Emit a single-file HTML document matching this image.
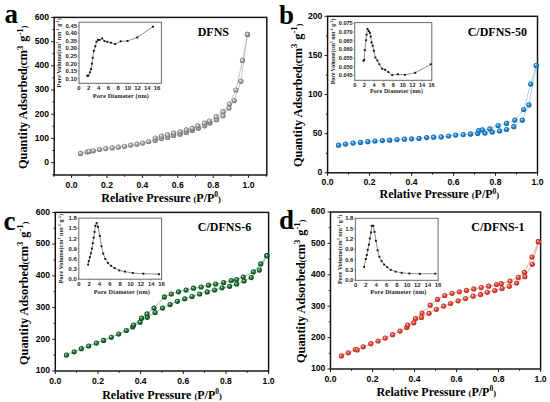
<!DOCTYPE html><html><head><meta charset="utf-8"><style>html,body{margin:0;padding:0;background:#fff;}svg{display:block;}</style></head><body>
<svg width="550" height="402" viewBox="0 0 550 402">
<defs>
<radialGradient id="ggray" cx="0.5" cy="0.5" r="0.5" fx="0.36" fy="0.33"><stop offset="0" stop-color="#ffffff"/><stop offset="0.3" stop-color="#d0d0d0"/><stop offset="0.6" stop-color="#9a9a9a"/><stop offset="1" stop-color="#6e6e6e"/></radialGradient>
<radialGradient id="gblue" cx="0.5" cy="0.5" r="0.5" fx="0.36" fy="0.33"><stop offset="0" stop-color="#eef8ff"/><stop offset="0.3" stop-color="#5cb0ea"/><stop offset="0.6" stop-color="#1a7ec8"/><stop offset="1" stop-color="#1463a6"/></radialGradient>
<radialGradient id="ggreen" cx="0.5" cy="0.5" r="0.5" fx="0.36" fy="0.33"><stop offset="0" stop-color="#f4fff4"/><stop offset="0.3" stop-color="#5a9e66"/><stop offset="0.6" stop-color="#16682e"/><stop offset="1" stop-color="#0b4a1a"/></radialGradient>
<radialGradient id="gred" cx="0.5" cy="0.5" r="0.5" fx="0.36" fy="0.33"><stop offset="0" stop-color="#fff0ec"/><stop offset="0.3" stop-color="#ec7a6e"/><stop offset="0.6" stop-color="#dc4234"/><stop offset="1" stop-color="#b52c20"/></radialGradient>
</defs>
<rect width="550" height="402" fill="#fff"/>
<g><rect x="54.20" y="17.40" width="212.60" height="157.60" fill="none" stroke="#111" stroke-width="1.45"/><line x1="71.60" y1="175.00" x2="71.60" y2="178.00" stroke="#1a1a1a" stroke-width="1"/><line x1="107.00" y1="175.00" x2="107.00" y2="178.00" stroke="#1a1a1a" stroke-width="1"/><line x1="142.40" y1="175.00" x2="142.40" y2="178.00" stroke="#1a1a1a" stroke-width="1"/><line x1="177.80" y1="175.00" x2="177.80" y2="178.00" stroke="#1a1a1a" stroke-width="1"/><line x1="213.20" y1="175.00" x2="213.20" y2="178.00" stroke="#1a1a1a" stroke-width="1"/><line x1="248.60" y1="175.00" x2="248.60" y2="178.00" stroke="#1a1a1a" stroke-width="1"/><line x1="53.90" y1="175.00" x2="53.90" y2="176.80" stroke="#1a1a1a" stroke-width="1"/><line x1="89.30" y1="175.00" x2="89.30" y2="176.80" stroke="#1a1a1a" stroke-width="1"/><line x1="124.70" y1="175.00" x2="124.70" y2="176.80" stroke="#1a1a1a" stroke-width="1"/><line x1="160.10" y1="175.00" x2="160.10" y2="176.80" stroke="#1a1a1a" stroke-width="1"/><line x1="195.50" y1="175.00" x2="195.50" y2="176.80" stroke="#1a1a1a" stroke-width="1"/><line x1="230.90" y1="175.00" x2="230.90" y2="176.80" stroke="#1a1a1a" stroke-width="1"/><line x1="266.30" y1="175.00" x2="266.30" y2="176.80" stroke="#1a1a1a" stroke-width="1"/><line x1="51.20" y1="162.60" x2="54.20" y2="162.60" stroke="#1a1a1a" stroke-width="1"/><line x1="51.20" y1="138.40" x2="54.20" y2="138.40" stroke="#1a1a1a" stroke-width="1"/><line x1="51.20" y1="114.20" x2="54.20" y2="114.20" stroke="#1a1a1a" stroke-width="1"/><line x1="51.20" y1="90.00" x2="54.20" y2="90.00" stroke="#1a1a1a" stroke-width="1"/><line x1="51.20" y1="65.80" x2="54.20" y2="65.80" stroke="#1a1a1a" stroke-width="1"/><line x1="51.20" y1="41.60" x2="54.20" y2="41.60" stroke="#1a1a1a" stroke-width="1"/><line x1="51.20" y1="17.40" x2="54.20" y2="17.40" stroke="#1a1a1a" stroke-width="1"/><line x1="52.40" y1="174.70" x2="54.20" y2="174.70" stroke="#1a1a1a" stroke-width="1"/><line x1="52.40" y1="150.50" x2="54.20" y2="150.50" stroke="#1a1a1a" stroke-width="1"/><line x1="52.40" y1="126.30" x2="54.20" y2="126.30" stroke="#1a1a1a" stroke-width="1"/><line x1="52.40" y1="102.10" x2="54.20" y2="102.10" stroke="#1a1a1a" stroke-width="1"/><line x1="52.40" y1="77.90" x2="54.20" y2="77.90" stroke="#1a1a1a" stroke-width="1"/><line x1="52.40" y1="53.70" x2="54.20" y2="53.70" stroke="#1a1a1a" stroke-width="1"/><line x1="52.40" y1="29.50" x2="54.20" y2="29.50" stroke="#1a1a1a" stroke-width="1"/><text x="71.60" y="187.60" text-anchor="middle" font-family='"Liberation Sans", sans-serif' font-weight="bold" font-size="8.6">0.0</text><text x="107.00" y="187.60" text-anchor="middle" font-family='"Liberation Sans", sans-serif' font-weight="bold" font-size="8.6">0.2</text><text x="142.40" y="187.60" text-anchor="middle" font-family='"Liberation Sans", sans-serif' font-weight="bold" font-size="8.6">0.4</text><text x="177.80" y="187.60" text-anchor="middle" font-family='"Liberation Sans", sans-serif' font-weight="bold" font-size="8.6">0.6</text><text x="213.20" y="187.60" text-anchor="middle" font-family='"Liberation Sans", sans-serif' font-weight="bold" font-size="8.6">0.8</text><text x="248.60" y="187.60" text-anchor="middle" font-family='"Liberation Sans", sans-serif' font-weight="bold" font-size="8.6">1.0</text><text x="49.00" y="164.90" text-anchor="end" font-family='"Liberation Sans", sans-serif' font-weight="bold" font-size="8.6">0</text><text x="49.00" y="140.70" text-anchor="end" font-family='"Liberation Sans", sans-serif' font-weight="bold" font-size="8.6">100</text><text x="49.00" y="116.50" text-anchor="end" font-family='"Liberation Sans", sans-serif' font-weight="bold" font-size="8.6">200</text><text x="49.00" y="92.30" text-anchor="end" font-family='"Liberation Sans", sans-serif' font-weight="bold" font-size="8.6">300</text><text x="49.00" y="68.10" text-anchor="end" font-family='"Liberation Sans", sans-serif' font-weight="bold" font-size="8.6">400</text><text x="49.00" y="43.90" text-anchor="end" font-family='"Liberation Sans", sans-serif' font-weight="bold" font-size="8.6">500</text><text x="49.00" y="19.70" text-anchor="end" font-family='"Liberation Sans", sans-serif' font-weight="bold" font-size="8.6">600</text><text x="4.5" y="22.6" font-family='"Liberation Serif", serif' font-weight="bold" font-size="27">a</text><text x="229.0" y="35.8" text-anchor="end" font-family='"Liberation Serif", serif' font-weight="bold" font-size="12">DFNS</text><text transform="translate(27.3,169.0) rotate(-90)" font-family='"Liberation Serif", serif' font-weight="bold" font-size="12.3">Quantity Adsorbed<tspan font-size="7.5">(</tspan>cm<tspan font-size="8.8" dy="-4.4">3</tspan><tspan dy="4.4" dx="0.8"> g</tspan><tspan font-size="8.8" dy="-4.4">-1</tspan><tspan font-size="7.5" dy="4.4">)</tspan></text><text x="101.3" y="201.5" font-family='"Liberation Serif", serif' font-weight="bold" font-size="12">Relative Pressure <tspan font-size="8.5">(</tspan>P/P<tspan font-size="7.5" dy="-4.5">0</tspan><tspan font-size="8.5" dy="4.5">)</tspan></text><polyline points="80.6,153.4 87.1,152.0 89.2,151.4 93.3,150.8 99.5,149.5 105.7,148.6 112.2,147.8 118.3,147.1 124.5,146.3 130.7,145.1 136.9,144.2 142.7,143.1 148.6,141.5 155.2,140.5 161.4,138.6 167.6,137.4 173.6,135.5 180.1,134.2 186.3,132.4 192.3,130.5 198.4,128.2 204.8,125.8 210.0,123.1 216.6,119.7 223.0,115.8 229.0,108.0 234.3,100.6 240.9,81.3 247.5,34.4" fill="none" stroke="#b0b0b0" stroke-width="0.7"/><polyline points="247.5,34.4 242.5,60.4 235.9,90.0 229.4,104.0 223.0,111.7 216.2,116.7 209.4,121.0 204.6,123.1 197.7,125.8 192.3,128.4 186.3,129.9 180.1,131.8 173.6,133.0 167.6,134.9 161.4,136.1 155.2,138.0" fill="none" stroke="#b0b0b0" stroke-width="0.7"/><circle cx="80.6" cy="153.4" r="2.6" fill="url(#ggray)"/><circle cx="87.1" cy="152.0" r="2.6" fill="url(#ggray)"/><circle cx="89.2" cy="151.4" r="2.6" fill="url(#ggray)"/><circle cx="93.3" cy="150.8" r="2.6" fill="url(#ggray)"/><circle cx="99.5" cy="149.5" r="2.6" fill="url(#ggray)"/><circle cx="105.7" cy="148.6" r="2.6" fill="url(#ggray)"/><circle cx="112.2" cy="147.8" r="2.6" fill="url(#ggray)"/><circle cx="118.3" cy="147.1" r="2.6" fill="url(#ggray)"/><circle cx="124.5" cy="146.3" r="2.6" fill="url(#ggray)"/><circle cx="130.7" cy="145.1" r="2.6" fill="url(#ggray)"/><circle cx="136.9" cy="144.2" r="2.6" fill="url(#ggray)"/><circle cx="142.7" cy="143.1" r="2.6" fill="url(#ggray)"/><circle cx="148.6" cy="141.5" r="2.6" fill="url(#ggray)"/><circle cx="155.2" cy="140.5" r="2.6" fill="url(#ggray)"/><circle cx="161.4" cy="138.6" r="2.6" fill="url(#ggray)"/><circle cx="167.6" cy="137.4" r="2.6" fill="url(#ggray)"/><circle cx="173.6" cy="135.5" r="2.6" fill="url(#ggray)"/><circle cx="180.1" cy="134.2" r="2.6" fill="url(#ggray)"/><circle cx="186.3" cy="132.4" r="2.6" fill="url(#ggray)"/><circle cx="192.3" cy="130.5" r="2.6" fill="url(#ggray)"/><circle cx="198.4" cy="128.2" r="2.6" fill="url(#ggray)"/><circle cx="204.8" cy="125.8" r="2.6" fill="url(#ggray)"/><circle cx="210.0" cy="123.1" r="2.6" fill="url(#ggray)"/><circle cx="216.6" cy="119.7" r="2.6" fill="url(#ggray)"/><circle cx="223.0" cy="115.8" r="2.6" fill="url(#ggray)"/><circle cx="229.0" cy="108.0" r="2.6" fill="url(#ggray)"/><circle cx="234.3" cy="100.6" r="2.6" fill="url(#ggray)"/><circle cx="240.9" cy="81.3" r="2.6" fill="url(#ggray)"/><circle cx="247.5" cy="34.4" r="2.6" fill="url(#ggray)"/><circle cx="247.5" cy="34.4" r="2.6" fill="url(#ggray)"/><circle cx="242.5" cy="60.4" r="2.6" fill="url(#ggray)"/><circle cx="235.9" cy="90.0" r="2.6" fill="url(#ggray)"/><circle cx="229.4" cy="104.0" r="2.6" fill="url(#ggray)"/><circle cx="223.0" cy="111.7" r="2.6" fill="url(#ggray)"/><circle cx="216.2" cy="116.7" r="2.6" fill="url(#ggray)"/><circle cx="209.4" cy="121.0" r="2.6" fill="url(#ggray)"/><circle cx="204.6" cy="123.1" r="2.6" fill="url(#ggray)"/><circle cx="197.7" cy="125.8" r="2.6" fill="url(#ggray)"/><circle cx="192.3" cy="128.4" r="2.6" fill="url(#ggray)"/><circle cx="186.3" cy="129.9" r="2.6" fill="url(#ggray)"/><circle cx="180.1" cy="131.8" r="2.6" fill="url(#ggray)"/><circle cx="173.6" cy="133.0" r="2.6" fill="url(#ggray)"/><circle cx="167.6" cy="134.9" r="2.6" fill="url(#ggray)"/><circle cx="161.4" cy="136.1" r="2.6" fill="url(#ggray)"/><circle cx="155.2" cy="138.0" r="2.6" fill="url(#ggray)"/><rect x="79.0" y="22.2" width="82.40" height="61.10" fill="#fff" stroke="#6a6a6a" stroke-width="1"/><line x1="79.00" y1="83.3" x2="79.00" y2="84.50" stroke="#555" stroke-width="0.6"/><text x="79.00" y="89.70" text-anchor="middle" font-family='"Liberation Sans", sans-serif' font-weight="bold" font-size="5.90" fill="#222">0</text><line x1="88.76" y1="83.3" x2="88.76" y2="84.50" stroke="#555" stroke-width="0.6"/><text x="88.76" y="89.70" text-anchor="middle" font-family='"Liberation Sans", sans-serif' font-weight="bold" font-size="5.90" fill="#222">2</text><line x1="98.52" y1="83.3" x2="98.52" y2="84.50" stroke="#555" stroke-width="0.6"/><text x="98.52" y="89.70" text-anchor="middle" font-family='"Liberation Sans", sans-serif' font-weight="bold" font-size="5.90" fill="#222">4</text><line x1="108.28" y1="83.3" x2="108.28" y2="84.50" stroke="#555" stroke-width="0.6"/><text x="108.28" y="89.70" text-anchor="middle" font-family='"Liberation Sans", sans-serif' font-weight="bold" font-size="5.90" fill="#222">6</text><line x1="118.04" y1="83.3" x2="118.04" y2="84.50" stroke="#555" stroke-width="0.6"/><text x="118.04" y="89.70" text-anchor="middle" font-family='"Liberation Sans", sans-serif' font-weight="bold" font-size="5.90" fill="#222">8</text><line x1="127.80" y1="83.3" x2="127.80" y2="84.50" stroke="#555" stroke-width="0.6"/><text x="127.80" y="89.70" text-anchor="middle" font-family='"Liberation Sans", sans-serif' font-weight="bold" font-size="5.90" fill="#222">10</text><line x1="137.56" y1="83.3" x2="137.56" y2="84.50" stroke="#555" stroke-width="0.6"/><text x="137.56" y="89.70" text-anchor="middle" font-family='"Liberation Sans", sans-serif' font-weight="bold" font-size="5.90" fill="#222">12</text><line x1="147.32" y1="83.3" x2="147.32" y2="84.50" stroke="#555" stroke-width="0.6"/><text x="147.32" y="89.70" text-anchor="middle" font-family='"Liberation Sans", sans-serif' font-weight="bold" font-size="5.90" fill="#222">14</text><line x1="157.08" y1="83.3" x2="157.08" y2="84.50" stroke="#555" stroke-width="0.6"/><text x="157.08" y="89.70" text-anchor="middle" font-family='"Liberation Sans", sans-serif' font-weight="bold" font-size="5.90" fill="#222">16</text><line x1="77.80" y1="78.60" x2="79.0" y2="78.60" stroke="#555" stroke-width="0.6"/><text x="77.00" y="80.60" text-anchor="end" font-family='"Liberation Sans", sans-serif' font-weight="bold" font-size="5.90" fill="#222">0.10</text><line x1="77.80" y1="71.07" x2="79.0" y2="71.07" stroke="#555" stroke-width="0.6"/><text x="77.00" y="73.07" text-anchor="end" font-family='"Liberation Sans", sans-serif' font-weight="bold" font-size="5.90" fill="#222">0.15</text><line x1="77.80" y1="63.54" x2="79.0" y2="63.54" stroke="#555" stroke-width="0.6"/><text x="77.00" y="65.54" text-anchor="end" font-family='"Liberation Sans", sans-serif' font-weight="bold" font-size="5.90" fill="#222">0.20</text><line x1="77.80" y1="56.01" x2="79.0" y2="56.01" stroke="#555" stroke-width="0.6"/><text x="77.00" y="58.01" text-anchor="end" font-family='"Liberation Sans", sans-serif' font-weight="bold" font-size="5.90" fill="#222">0.25</text><line x1="77.80" y1="48.49" x2="79.0" y2="48.49" stroke="#555" stroke-width="0.6"/><text x="77.00" y="50.49" text-anchor="end" font-family='"Liberation Sans", sans-serif' font-weight="bold" font-size="5.90" fill="#222">0.30</text><line x1="77.80" y1="40.96" x2="79.0" y2="40.96" stroke="#555" stroke-width="0.6"/><text x="77.00" y="42.96" text-anchor="end" font-family='"Liberation Sans", sans-serif' font-weight="bold" font-size="5.90" fill="#222">0.35</text><line x1="77.80" y1="33.43" x2="79.0" y2="33.43" stroke="#555" stroke-width="0.6"/><text x="77.00" y="35.43" text-anchor="end" font-family='"Liberation Sans", sans-serif' font-weight="bold" font-size="5.90" fill="#222">0.40</text><line x1="77.80" y1="25.90" x2="79.0" y2="25.90" stroke="#555" stroke-width="0.6"/><text x="77.00" y="27.90" text-anchor="end" font-family='"Liberation Sans", sans-serif' font-weight="bold" font-size="5.90" fill="#222">0.45</text><polyline points="87.2,75.7 88.4,75.7 89.9,72.3 91.0,69.1 91.9,63.7 92.7,57.8 93.8,50.8 95.3,46.3 96.5,41.8 97.9,39.9 99.6,39.9 102.2,38.4 104.4,41.0 107.3,41.8 110.9,42.7 115.2,44.0 120.7,41.3 127.5,41.0 137.3,37.4 153.0,26.7" fill="none" stroke="#333" stroke-width="0.55"/><rect x="86.25" y="74.75" width="1.9" height="1.9" fill="#111"/><rect x="87.45" y="74.75" width="1.9" height="1.9" fill="#111"/><rect x="88.95" y="71.35" width="1.9" height="1.9" fill="#111"/><rect x="90.05" y="68.15" width="1.9" height="1.9" fill="#111"/><rect x="90.95" y="62.75" width="1.9" height="1.9" fill="#111"/><rect x="91.75" y="56.85" width="1.9" height="1.9" fill="#111"/><rect x="92.85" y="49.85" width="1.9" height="1.9" fill="#111"/><rect x="94.35" y="45.35" width="1.9" height="1.9" fill="#111"/><rect x="95.55" y="40.85" width="1.9" height="1.9" fill="#111"/><rect x="96.95" y="38.95" width="1.9" height="1.9" fill="#111"/><rect x="98.65" y="38.95" width="1.9" height="1.9" fill="#111"/><rect x="101.25" y="37.45" width="1.9" height="1.9" fill="#111"/><rect x="103.45" y="40.05" width="1.9" height="1.9" fill="#111"/><rect x="106.35" y="40.85" width="1.9" height="1.9" fill="#111"/><rect x="109.95" y="41.75" width="1.9" height="1.9" fill="#111"/><rect x="114.25" y="43.05" width="1.9" height="1.9" fill="#111"/><rect x="119.75" y="40.35" width="1.9" height="1.9" fill="#111"/><rect x="126.55" y="40.05" width="1.9" height="1.9" fill="#111"/><rect x="136.35" y="36.45" width="1.9" height="1.9" fill="#111"/><rect x="152.05" y="25.75" width="1.9" height="1.9" fill="#111"/><text x="121.00" y="97.6" text-anchor="middle" font-family='"Liberation Serif", serif' font-weight="bold" font-size="6.20" letter-spacing="0.20" fill="#222">Pore Diameter (nm)</text><text transform="translate(61.2,52.75) rotate(-90)" text-anchor="middle" font-family='"Liberation Serif", serif' font-weight="bold" font-size="6.20" fill="#222">Pore Volume(cm<tspan font-size="4" dy="-2.2">3</tspan><tspan dy="2.2"> nm</tspan><tspan font-size="4" dy="-2.2">-1</tspan><tspan dy="2.2"> g</tspan><tspan font-size="4" dy="-2.2">-1</tspan><tspan dy="2.2">)</tspan></text></g>
<g><rect x="327.60" y="16.30" width="209.90" height="156.50" fill="none" stroke="#111" stroke-width="1.45"/><line x1="327.60" y1="172.80" x2="327.60" y2="175.80" stroke="#1a1a1a" stroke-width="1"/><line x1="369.58" y1="172.80" x2="369.58" y2="175.80" stroke="#1a1a1a" stroke-width="1"/><line x1="411.56" y1="172.80" x2="411.56" y2="175.80" stroke="#1a1a1a" stroke-width="1"/><line x1="453.54" y1="172.80" x2="453.54" y2="175.80" stroke="#1a1a1a" stroke-width="1"/><line x1="495.52" y1="172.80" x2="495.52" y2="175.80" stroke="#1a1a1a" stroke-width="1"/><line x1="537.50" y1="172.80" x2="537.50" y2="175.80" stroke="#1a1a1a" stroke-width="1"/><line x1="348.59" y1="172.80" x2="348.59" y2="174.60" stroke="#1a1a1a" stroke-width="1"/><line x1="390.57" y1="172.80" x2="390.57" y2="174.60" stroke="#1a1a1a" stroke-width="1"/><line x1="432.55" y1="172.80" x2="432.55" y2="174.60" stroke="#1a1a1a" stroke-width="1"/><line x1="474.53" y1="172.80" x2="474.53" y2="174.60" stroke="#1a1a1a" stroke-width="1"/><line x1="516.51" y1="172.80" x2="516.51" y2="174.60" stroke="#1a1a1a" stroke-width="1"/><line x1="324.60" y1="172.80" x2="327.60" y2="172.80" stroke="#1a1a1a" stroke-width="1"/><line x1="324.60" y1="133.68" x2="327.60" y2="133.68" stroke="#1a1a1a" stroke-width="1"/><line x1="324.60" y1="94.55" x2="327.60" y2="94.55" stroke="#1a1a1a" stroke-width="1"/><line x1="324.60" y1="55.43" x2="327.60" y2="55.43" stroke="#1a1a1a" stroke-width="1"/><line x1="324.60" y1="16.30" x2="327.60" y2="16.30" stroke="#1a1a1a" stroke-width="1"/><line x1="325.80" y1="153.24" x2="327.60" y2="153.24" stroke="#1a1a1a" stroke-width="1"/><line x1="325.80" y1="114.11" x2="327.60" y2="114.11" stroke="#1a1a1a" stroke-width="1"/><line x1="325.80" y1="74.99" x2="327.60" y2="74.99" stroke="#1a1a1a" stroke-width="1"/><line x1="325.80" y1="35.86" x2="327.60" y2="35.86" stroke="#1a1a1a" stroke-width="1"/><text x="327.60" y="185.40" text-anchor="middle" font-family='"Liberation Sans", sans-serif' font-weight="bold" font-size="8.6">0.0</text><text x="369.58" y="185.40" text-anchor="middle" font-family='"Liberation Sans", sans-serif' font-weight="bold" font-size="8.6">0.2</text><text x="411.56" y="185.40" text-anchor="middle" font-family='"Liberation Sans", sans-serif' font-weight="bold" font-size="8.6">0.4</text><text x="453.54" y="185.40" text-anchor="middle" font-family='"Liberation Sans", sans-serif' font-weight="bold" font-size="8.6">0.6</text><text x="495.52" y="185.40" text-anchor="middle" font-family='"Liberation Sans", sans-serif' font-weight="bold" font-size="8.6">0.8</text><text x="537.50" y="185.40" text-anchor="middle" font-family='"Liberation Sans", sans-serif' font-weight="bold" font-size="8.6">1.0</text><text x="322.40" y="175.10" text-anchor="end" font-family='"Liberation Sans", sans-serif' font-weight="bold" font-size="8.6">0</text><text x="322.40" y="135.98" text-anchor="end" font-family='"Liberation Sans", sans-serif' font-weight="bold" font-size="8.6">50</text><text x="322.40" y="96.85" text-anchor="end" font-family='"Liberation Sans", sans-serif' font-weight="bold" font-size="8.6">100</text><text x="322.40" y="57.73" text-anchor="end" font-family='"Liberation Sans", sans-serif' font-weight="bold" font-size="8.6">150</text><text x="322.40" y="18.60" text-anchor="end" font-family='"Liberation Sans", sans-serif' font-weight="bold" font-size="8.6">200</text><text x="279.0" y="23.5" font-family='"Liberation Serif", serif' font-weight="bold" font-size="27">b</text><text x="527.0" y="35.7" text-anchor="end" font-family='"Liberation Serif", serif' font-weight="bold" font-size="12">C/DFNS-50</text><text transform="translate(301.6,167.0) rotate(-90)" font-family='"Liberation Serif", serif' font-weight="bold" font-size="12.3">Quantity Adsorbed<tspan font-size="7.5">(</tspan>cm<tspan font-size="8.8" dy="-4.4">3</tspan><tspan dy="4.4" dx="0.8"> g</tspan><tspan font-size="8.8" dy="-4.4">-1</tspan><tspan font-size="7.5" dy="4.4">)</tspan></text><text x="379.5" y="198.4" font-family='"Liberation Serif", serif' font-weight="bold" font-size="12">Relative Pressure <tspan font-size="8.5">(</tspan>P/P<tspan font-size="7.5" dy="-4.5">0</tspan><tspan font-size="8.5" dy="4.5">)</tspan></text><polyline points="338.5,145.2 345.5,144.1 353.0,143.1 360.5,142.4 367.8,141.7 375.0,141.0 382.4,140.6 389.6,140.2 397.0,139.6 404.4,139.2 411.6,138.8 419.0,138.4 426.6,137.6 433.6,137.2 441.2,136.9 448.6,136.0 455.7,135.1 463.2,134.6 470.5,134.0 477.7,133.5 485.0,133.1 492.3,132.1 499.6,130.9 506.5,129.5 513.8,126.7 522.3,120.2 528.9,104.9 536.3,65.5" fill="none" stroke="#8cc0e8" stroke-width="0.7"/><polyline points="536.3,65.5 530.7,84.1 523.6,109.5 514.8,120.2 506.5,123.4 498.1,125.5 489.8,128.9 482.3,129.9 478.6,130.6 470.5,134.0" fill="none" stroke="#8cc0e8" stroke-width="0.7"/><circle cx="338.5" cy="145.2" r="2.6" fill="url(#gblue)"/><circle cx="345.5" cy="144.1" r="2.6" fill="url(#gblue)"/><circle cx="353.0" cy="143.1" r="2.6" fill="url(#gblue)"/><circle cx="360.5" cy="142.4" r="2.6" fill="url(#gblue)"/><circle cx="367.8" cy="141.7" r="2.6" fill="url(#gblue)"/><circle cx="375.0" cy="141.0" r="2.6" fill="url(#gblue)"/><circle cx="382.4" cy="140.6" r="2.6" fill="url(#gblue)"/><circle cx="389.6" cy="140.2" r="2.6" fill="url(#gblue)"/><circle cx="397.0" cy="139.6" r="2.6" fill="url(#gblue)"/><circle cx="404.4" cy="139.2" r="2.6" fill="url(#gblue)"/><circle cx="411.6" cy="138.8" r="2.6" fill="url(#gblue)"/><circle cx="419.0" cy="138.4" r="2.6" fill="url(#gblue)"/><circle cx="426.6" cy="137.6" r="2.6" fill="url(#gblue)"/><circle cx="433.6" cy="137.2" r="2.6" fill="url(#gblue)"/><circle cx="441.2" cy="136.9" r="2.6" fill="url(#gblue)"/><circle cx="448.6" cy="136.0" r="2.6" fill="url(#gblue)"/><circle cx="455.7" cy="135.1" r="2.6" fill="url(#gblue)"/><circle cx="463.2" cy="134.6" r="2.6" fill="url(#gblue)"/><circle cx="470.5" cy="134.0" r="2.6" fill="url(#gblue)"/><circle cx="477.7" cy="133.5" r="2.6" fill="url(#gblue)"/><circle cx="485.0" cy="133.1" r="2.6" fill="url(#gblue)"/><circle cx="492.3" cy="132.1" r="2.6" fill="url(#gblue)"/><circle cx="499.6" cy="130.9" r="2.6" fill="url(#gblue)"/><circle cx="506.5" cy="129.5" r="2.6" fill="url(#gblue)"/><circle cx="513.8" cy="126.7" r="2.6" fill="url(#gblue)"/><circle cx="522.3" cy="120.2" r="2.6" fill="url(#gblue)"/><circle cx="528.9" cy="104.9" r="2.6" fill="url(#gblue)"/><circle cx="536.3" cy="65.5" r="2.6" fill="url(#gblue)"/><circle cx="536.3" cy="65.5" r="2.6" fill="url(#gblue)"/><circle cx="530.7" cy="84.1" r="2.6" fill="url(#gblue)"/><circle cx="523.6" cy="109.5" r="2.6" fill="url(#gblue)"/><circle cx="514.8" cy="120.2" r="2.6" fill="url(#gblue)"/><circle cx="506.5" cy="123.4" r="2.6" fill="url(#gblue)"/><circle cx="498.1" cy="125.5" r="2.6" fill="url(#gblue)"/><circle cx="489.8" cy="128.9" r="2.6" fill="url(#gblue)"/><circle cx="482.3" cy="129.9" r="2.6" fill="url(#gblue)"/><circle cx="478.6" cy="130.6" r="2.6" fill="url(#gblue)"/><circle cx="470.5" cy="134.0" r="2.6" fill="url(#gblue)"/><rect x="354.7" y="22.6" width="77.10" height="57.70" fill="#fff" stroke="#6a6a6a" stroke-width="1"/><line x1="354.80" y1="80.3" x2="354.80" y2="81.50" stroke="#555" stroke-width="0.6"/><text x="354.80" y="86.70" text-anchor="middle" font-family='"Liberation Sans", sans-serif' font-weight="bold" font-size="5.55" fill="#222">0</text><line x1="364.40" y1="80.3" x2="364.40" y2="81.50" stroke="#555" stroke-width="0.6"/><text x="364.40" y="86.70" text-anchor="middle" font-family='"Liberation Sans", sans-serif' font-weight="bold" font-size="5.55" fill="#222">2</text><line x1="374.00" y1="80.3" x2="374.00" y2="81.50" stroke="#555" stroke-width="0.6"/><text x="374.00" y="86.70" text-anchor="middle" font-family='"Liberation Sans", sans-serif' font-weight="bold" font-size="5.55" fill="#222">4</text><line x1="383.60" y1="80.3" x2="383.60" y2="81.50" stroke="#555" stroke-width="0.6"/><text x="383.60" y="86.70" text-anchor="middle" font-family='"Liberation Sans", sans-serif' font-weight="bold" font-size="5.55" fill="#222">6</text><line x1="393.20" y1="80.3" x2="393.20" y2="81.50" stroke="#555" stroke-width="0.6"/><text x="393.20" y="86.70" text-anchor="middle" font-family='"Liberation Sans", sans-serif' font-weight="bold" font-size="5.55" fill="#222">8</text><line x1="402.80" y1="80.3" x2="402.80" y2="81.50" stroke="#555" stroke-width="0.6"/><text x="402.80" y="86.70" text-anchor="middle" font-family='"Liberation Sans", sans-serif' font-weight="bold" font-size="5.55" fill="#222">10</text><line x1="412.40" y1="80.3" x2="412.40" y2="81.50" stroke="#555" stroke-width="0.6"/><text x="412.40" y="86.70" text-anchor="middle" font-family='"Liberation Sans", sans-serif' font-weight="bold" font-size="5.55" fill="#222">12</text><line x1="422.00" y1="80.3" x2="422.00" y2="81.50" stroke="#555" stroke-width="0.6"/><text x="422.00" y="86.70" text-anchor="middle" font-family='"Liberation Sans", sans-serif' font-weight="bold" font-size="5.55" fill="#222">14</text><line x1="431.60" y1="80.3" x2="431.60" y2="81.50" stroke="#555" stroke-width="0.6"/><text x="431.60" y="86.70" text-anchor="middle" font-family='"Liberation Sans", sans-serif' font-weight="bold" font-size="5.55" fill="#222">16</text><line x1="353.50" y1="75.40" x2="354.7" y2="75.40" stroke="#555" stroke-width="0.6"/><text x="352.70" y="77.40" text-anchor="end" font-family='"Liberation Sans", sans-serif' font-weight="bold" font-size="5.55" fill="#222">0.045</text><line x1="353.50" y1="66.73" x2="354.7" y2="66.73" stroke="#555" stroke-width="0.6"/><text x="352.70" y="68.73" text-anchor="end" font-family='"Liberation Sans", sans-serif' font-weight="bold" font-size="5.55" fill="#222">0.050</text><line x1="353.50" y1="58.07" x2="354.7" y2="58.07" stroke="#555" stroke-width="0.6"/><text x="352.70" y="60.07" text-anchor="end" font-family='"Liberation Sans", sans-serif' font-weight="bold" font-size="5.55" fill="#222">0.055</text><line x1="353.50" y1="49.40" x2="354.7" y2="49.40" stroke="#555" stroke-width="0.6"/><text x="352.70" y="51.40" text-anchor="end" font-family='"Liberation Sans", sans-serif' font-weight="bold" font-size="5.55" fill="#222">0.060</text><line x1="353.50" y1="40.73" x2="354.7" y2="40.73" stroke="#555" stroke-width="0.6"/><text x="352.70" y="42.73" text-anchor="end" font-family='"Liberation Sans", sans-serif' font-weight="bold" font-size="5.55" fill="#222">0.065</text><line x1="353.50" y1="32.07" x2="354.7" y2="32.07" stroke="#555" stroke-width="0.6"/><text x="352.70" y="34.07" text-anchor="end" font-family='"Liberation Sans", sans-serif' font-weight="bold" font-size="5.55" fill="#222">0.070</text><line x1="353.50" y1="23.40" x2="354.7" y2="23.40" stroke="#555" stroke-width="0.6"/><text x="352.70" y="25.40" text-anchor="end" font-family='"Liberation Sans", sans-serif' font-weight="bold" font-size="5.55" fill="#222">0.075</text><polyline points="363.5,60.9 364.2,59.8 364.8,50.1 366.0,40.3 366.6,34.7 367.5,28.9 368.9,31.1 369.8,32.9 370.7,36.5 371.6,42.5 372.7,45.7 373.8,50.8 375.4,57.5 377.4,60.4 379.4,64.3 382.1,68.7 385.0,69.8 388.4,72.1 392.2,75.0 397.8,74.3 404.9,74.8 415.2,72.8 430.7,64.3" fill="none" stroke="#333" stroke-width="0.55"/><rect x="362.55" y="59.95" width="1.9" height="1.9" fill="#111"/><rect x="363.25" y="58.85" width="1.9" height="1.9" fill="#111"/><rect x="363.85" y="49.15" width="1.9" height="1.9" fill="#111"/><rect x="365.05" y="39.35" width="1.9" height="1.9" fill="#111"/><rect x="365.65" y="33.75" width="1.9" height="1.9" fill="#111"/><rect x="366.55" y="27.95" width="1.9" height="1.9" fill="#111"/><rect x="367.95" y="30.15" width="1.9" height="1.9" fill="#111"/><rect x="368.85" y="31.95" width="1.9" height="1.9" fill="#111"/><rect x="369.75" y="35.55" width="1.9" height="1.9" fill="#111"/><rect x="370.65" y="41.55" width="1.9" height="1.9" fill="#111"/><rect x="371.75" y="44.75" width="1.9" height="1.9" fill="#111"/><rect x="372.85" y="49.85" width="1.9" height="1.9" fill="#111"/><rect x="374.45" y="56.55" width="1.9" height="1.9" fill="#111"/><rect x="376.45" y="59.45" width="1.9" height="1.9" fill="#111"/><rect x="378.45" y="63.35" width="1.9" height="1.9" fill="#111"/><rect x="381.15" y="67.75" width="1.9" height="1.9" fill="#111"/><rect x="384.05" y="68.85" width="1.9" height="1.9" fill="#111"/><rect x="387.45" y="71.15" width="1.9" height="1.9" fill="#111"/><rect x="391.25" y="74.05" width="1.9" height="1.9" fill="#111"/><rect x="396.85" y="73.35" width="1.9" height="1.9" fill="#111"/><rect x="403.95" y="73.85" width="1.9" height="1.9" fill="#111"/><rect x="414.25" y="71.85" width="1.9" height="1.9" fill="#111"/><rect x="429.75" y="63.35" width="1.9" height="1.9" fill="#111"/><text x="396.50" y="92.5" text-anchor="middle" font-family='"Liberation Serif", serif' font-weight="bold" font-size="5.83" letter-spacing="0.19" fill="#222">Pore Diameter (nm)</text><text transform="translate(335.0,51.45) rotate(-90)" text-anchor="middle" font-family='"Liberation Serif", serif' font-weight="bold" font-size="5.83" fill="#222">Pore Volume(cm<tspan font-size="4" dy="-2.2">3</tspan><tspan dy="2.2"> nm</tspan><tspan font-size="4" dy="-2.2">-1</tspan><tspan dy="2.2"> g</tspan><tspan font-size="4" dy="-2.2">-1</tspan><tspan dy="2.2">)</tspan></text></g>
<g><rect x="55.30" y="212.40" width="213.30" height="158.60" fill="none" stroke="#111" stroke-width="1.45"/><line x1="55.30" y1="371.00" x2="55.30" y2="374.00" stroke="#1a1a1a" stroke-width="1"/><line x1="97.96" y1="371.00" x2="97.96" y2="374.00" stroke="#1a1a1a" stroke-width="1"/><line x1="140.62" y1="371.00" x2="140.62" y2="374.00" stroke="#1a1a1a" stroke-width="1"/><line x1="183.28" y1="371.00" x2="183.28" y2="374.00" stroke="#1a1a1a" stroke-width="1"/><line x1="225.94" y1="371.00" x2="225.94" y2="374.00" stroke="#1a1a1a" stroke-width="1"/><line x1="268.60" y1="371.00" x2="268.60" y2="374.00" stroke="#1a1a1a" stroke-width="1"/><line x1="76.63" y1="371.00" x2="76.63" y2="372.80" stroke="#1a1a1a" stroke-width="1"/><line x1="119.29" y1="371.00" x2="119.29" y2="372.80" stroke="#1a1a1a" stroke-width="1"/><line x1="161.95" y1="371.00" x2="161.95" y2="372.80" stroke="#1a1a1a" stroke-width="1"/><line x1="204.61" y1="371.00" x2="204.61" y2="372.80" stroke="#1a1a1a" stroke-width="1"/><line x1="247.27" y1="371.00" x2="247.27" y2="372.80" stroke="#1a1a1a" stroke-width="1"/><line x1="52.30" y1="371.00" x2="55.30" y2="371.00" stroke="#1a1a1a" stroke-width="1"/><line x1="52.30" y1="339.28" x2="55.30" y2="339.28" stroke="#1a1a1a" stroke-width="1"/><line x1="52.30" y1="307.56" x2="55.30" y2="307.56" stroke="#1a1a1a" stroke-width="1"/><line x1="52.30" y1="275.84" x2="55.30" y2="275.84" stroke="#1a1a1a" stroke-width="1"/><line x1="52.30" y1="244.12" x2="55.30" y2="244.12" stroke="#1a1a1a" stroke-width="1"/><line x1="52.30" y1="212.40" x2="55.30" y2="212.40" stroke="#1a1a1a" stroke-width="1"/><line x1="53.50" y1="355.14" x2="55.30" y2="355.14" stroke="#1a1a1a" stroke-width="1"/><line x1="53.50" y1="323.42" x2="55.30" y2="323.42" stroke="#1a1a1a" stroke-width="1"/><line x1="53.50" y1="291.70" x2="55.30" y2="291.70" stroke="#1a1a1a" stroke-width="1"/><line x1="53.50" y1="259.98" x2="55.30" y2="259.98" stroke="#1a1a1a" stroke-width="1"/><line x1="53.50" y1="228.26" x2="55.30" y2="228.26" stroke="#1a1a1a" stroke-width="1"/><text x="55.30" y="383.60" text-anchor="middle" font-family='"Liberation Sans", sans-serif' font-weight="bold" font-size="8.6">0.0</text><text x="97.96" y="383.60" text-anchor="middle" font-family='"Liberation Sans", sans-serif' font-weight="bold" font-size="8.6">0.2</text><text x="140.62" y="383.60" text-anchor="middle" font-family='"Liberation Sans", sans-serif' font-weight="bold" font-size="8.6">0.4</text><text x="183.28" y="383.60" text-anchor="middle" font-family='"Liberation Sans", sans-serif' font-weight="bold" font-size="8.6">0.6</text><text x="225.94" y="383.60" text-anchor="middle" font-family='"Liberation Sans", sans-serif' font-weight="bold" font-size="8.6">0.8</text><text x="268.60" y="383.60" text-anchor="middle" font-family='"Liberation Sans", sans-serif' font-weight="bold" font-size="8.6">1.0</text><text x="50.10" y="373.30" text-anchor="end" font-family='"Liberation Sans", sans-serif' font-weight="bold" font-size="8.6">100</text><text x="50.10" y="341.58" text-anchor="end" font-family='"Liberation Sans", sans-serif' font-weight="bold" font-size="8.6">200</text><text x="50.10" y="309.86" text-anchor="end" font-family='"Liberation Sans", sans-serif' font-weight="bold" font-size="8.6">300</text><text x="50.10" y="278.14" text-anchor="end" font-family='"Liberation Sans", sans-serif' font-weight="bold" font-size="8.6">400</text><text x="50.10" y="246.42" text-anchor="end" font-family='"Liberation Sans", sans-serif' font-weight="bold" font-size="8.6">500</text><text x="50.10" y="214.70" text-anchor="end" font-family='"Liberation Sans", sans-serif' font-weight="bold" font-size="8.6">600</text><text x="3.5" y="229.9" font-family='"Liberation Serif", serif' font-weight="bold" font-size="27">c</text><text x="251.2" y="231.3" text-anchor="end" font-family='"Liberation Serif", serif' font-weight="bold" font-size="12">C/DFNS-6</text><text transform="translate(27.5,365.0) rotate(-90)" font-family='"Liberation Serif", serif' font-weight="bold" font-size="12.3">Quantity Adsorbed<tspan font-size="7.5">(</tspan>cm<tspan font-size="8.8" dy="-4.4">3</tspan><tspan dy="4.4" dx="0.8"> g</tspan><tspan font-size="8.8" dy="-4.4">-1</tspan><tspan font-size="7.5" dy="4.4">)</tspan></text><text x="102.2" y="398.7" font-family='"Liberation Serif", serif' font-weight="bold" font-size="12">Relative Pressure <tspan font-size="8.5">(</tspan>P/P<tspan font-size="7.5" dy="-4.5">0</tspan><tspan font-size="8.5" dy="4.5">)</tspan></text><polyline points="66.4,355.1 74.2,351.8 81.3,348.7 88.7,346.0 96.4,343.1 103.6,340.4 111.3,337.3 118.7,334.0 126.4,330.5 132.7,326.9 140.0,322.2 147.3,317.3 155.1,312.5 162.5,308.1 170.1,304.6 177.4,301.3 184.7,298.8 192.1,296.5 199.6,294.0 207.2,291.9 214.6,290.0 222.1,287.8 229.6,286.3 236.6,284.0 244.0,281.0 251.2,277.6 259.4,270.1 266.9,255.7" fill="none" stroke="#6c9e76" stroke-width="0.7"/><polyline points="266.9,255.7 260.7,263.9 253.4,271.8 243.3,277.0 236.6,279.6 231.3,280.6 223.6,282.5 215.7,284.0 208.5,285.2 201.1,287.0 193.5,288.2 186.1,290.1 178.5,291.8 171.3,294.0 164.4,296.9 154.0,308.1 147.0,313.9 141.5,318.2 133.6,325.1" fill="none" stroke="#6c9e76" stroke-width="0.7"/><circle cx="66.4" cy="355.1" r="2.6" fill="url(#ggreen)"/><circle cx="74.2" cy="351.8" r="2.6" fill="url(#ggreen)"/><circle cx="81.3" cy="348.7" r="2.6" fill="url(#ggreen)"/><circle cx="88.7" cy="346.0" r="2.6" fill="url(#ggreen)"/><circle cx="96.4" cy="343.1" r="2.6" fill="url(#ggreen)"/><circle cx="103.6" cy="340.4" r="2.6" fill="url(#ggreen)"/><circle cx="111.3" cy="337.3" r="2.6" fill="url(#ggreen)"/><circle cx="118.7" cy="334.0" r="2.6" fill="url(#ggreen)"/><circle cx="126.4" cy="330.5" r="2.6" fill="url(#ggreen)"/><circle cx="132.7" cy="326.9" r="2.6" fill="url(#ggreen)"/><circle cx="140.0" cy="322.2" r="2.6" fill="url(#ggreen)"/><circle cx="147.3" cy="317.3" r="2.6" fill="url(#ggreen)"/><circle cx="155.1" cy="312.5" r="2.6" fill="url(#ggreen)"/><circle cx="162.5" cy="308.1" r="2.6" fill="url(#ggreen)"/><circle cx="170.1" cy="304.6" r="2.6" fill="url(#ggreen)"/><circle cx="177.4" cy="301.3" r="2.6" fill="url(#ggreen)"/><circle cx="184.7" cy="298.8" r="2.6" fill="url(#ggreen)"/><circle cx="192.1" cy="296.5" r="2.6" fill="url(#ggreen)"/><circle cx="199.6" cy="294.0" r="2.6" fill="url(#ggreen)"/><circle cx="207.2" cy="291.9" r="2.6" fill="url(#ggreen)"/><circle cx="214.6" cy="290.0" r="2.6" fill="url(#ggreen)"/><circle cx="222.1" cy="287.8" r="2.6" fill="url(#ggreen)"/><circle cx="229.6" cy="286.3" r="2.6" fill="url(#ggreen)"/><circle cx="236.6" cy="284.0" r="2.6" fill="url(#ggreen)"/><circle cx="244.0" cy="281.0" r="2.6" fill="url(#ggreen)"/><circle cx="251.2" cy="277.6" r="2.6" fill="url(#ggreen)"/><circle cx="259.4" cy="270.1" r="2.6" fill="url(#ggreen)"/><circle cx="266.9" cy="255.7" r="2.6" fill="url(#ggreen)"/><circle cx="266.9" cy="255.7" r="2.6" fill="url(#ggreen)"/><circle cx="260.7" cy="263.9" r="2.6" fill="url(#ggreen)"/><circle cx="253.4" cy="271.8" r="2.6" fill="url(#ggreen)"/><circle cx="243.3" cy="277.0" r="2.6" fill="url(#ggreen)"/><circle cx="236.6" cy="279.6" r="2.6" fill="url(#ggreen)"/><circle cx="231.3" cy="280.6" r="2.6" fill="url(#ggreen)"/><circle cx="223.6" cy="282.5" r="2.6" fill="url(#ggreen)"/><circle cx="215.7" cy="284.0" r="2.6" fill="url(#ggreen)"/><circle cx="208.5" cy="285.2" r="2.6" fill="url(#ggreen)"/><circle cx="201.1" cy="287.0" r="2.6" fill="url(#ggreen)"/><circle cx="193.5" cy="288.2" r="2.6" fill="url(#ggreen)"/><circle cx="186.1" cy="290.1" r="2.6" fill="url(#ggreen)"/><circle cx="178.5" cy="291.8" r="2.6" fill="url(#ggreen)"/><circle cx="171.3" cy="294.0" r="2.6" fill="url(#ggreen)"/><circle cx="164.4" cy="296.9" r="2.6" fill="url(#ggreen)"/><circle cx="154.0" cy="308.1" r="2.6" fill="url(#ggreen)"/><circle cx="147.0" cy="313.9" r="2.6" fill="url(#ggreen)"/><circle cx="141.5" cy="318.2" r="2.6" fill="url(#ggreen)"/><circle cx="133.6" cy="325.1" r="2.6" fill="url(#ggreen)"/><rect x="78.8" y="218.1" width="82.80" height="61.10" fill="#fff" stroke="#6a6a6a" stroke-width="1"/><line x1="78.80" y1="279.2" x2="78.80" y2="280.40" stroke="#555" stroke-width="0.6"/><text x="78.80" y="286.20" text-anchor="middle" font-family='"Liberation Sans", sans-serif' font-weight="bold" font-size="5.90" fill="#222">0</text><line x1="89.14" y1="279.2" x2="89.14" y2="280.40" stroke="#555" stroke-width="0.6"/><text x="89.14" y="286.20" text-anchor="middle" font-family='"Liberation Sans", sans-serif' font-weight="bold" font-size="5.90" fill="#222">2</text><line x1="99.48" y1="279.2" x2="99.48" y2="280.40" stroke="#555" stroke-width="0.6"/><text x="99.48" y="286.20" text-anchor="middle" font-family='"Liberation Sans", sans-serif' font-weight="bold" font-size="5.90" fill="#222">4</text><line x1="109.82" y1="279.2" x2="109.82" y2="280.40" stroke="#555" stroke-width="0.6"/><text x="109.82" y="286.20" text-anchor="middle" font-family='"Liberation Sans", sans-serif' font-weight="bold" font-size="5.90" fill="#222">6</text><line x1="120.16" y1="279.2" x2="120.16" y2="280.40" stroke="#555" stroke-width="0.6"/><text x="120.16" y="286.20" text-anchor="middle" font-family='"Liberation Sans", sans-serif' font-weight="bold" font-size="5.90" fill="#222">8</text><line x1="130.50" y1="279.2" x2="130.50" y2="280.40" stroke="#555" stroke-width="0.6"/><text x="130.50" y="286.20" text-anchor="middle" font-family='"Liberation Sans", sans-serif' font-weight="bold" font-size="5.90" fill="#222">10</text><line x1="140.84" y1="279.2" x2="140.84" y2="280.40" stroke="#555" stroke-width="0.6"/><text x="140.84" y="286.20" text-anchor="middle" font-family='"Liberation Sans", sans-serif' font-weight="bold" font-size="5.90" fill="#222">12</text><line x1="151.18" y1="279.2" x2="151.18" y2="280.40" stroke="#555" stroke-width="0.6"/><text x="151.18" y="286.20" text-anchor="middle" font-family='"Liberation Sans", sans-serif' font-weight="bold" font-size="5.90" fill="#222">14</text><line x1="161.52" y1="279.2" x2="161.52" y2="280.40" stroke="#555" stroke-width="0.6"/><text x="161.52" y="286.20" text-anchor="middle" font-family='"Liberation Sans", sans-serif' font-weight="bold" font-size="5.90" fill="#222">16</text><line x1="77.60" y1="279.20" x2="78.8" y2="279.20" stroke="#555" stroke-width="0.6"/><text x="76.80" y="281.20" text-anchor="end" font-family='"Liberation Sans", sans-serif' font-weight="bold" font-size="5.90" fill="#222">0.0</text><line x1="77.60" y1="269.03" x2="78.8" y2="269.03" stroke="#555" stroke-width="0.6"/><text x="76.80" y="271.03" text-anchor="end" font-family='"Liberation Sans", sans-serif' font-weight="bold" font-size="5.90" fill="#222">0.3</text><line x1="77.60" y1="258.87" x2="78.8" y2="258.87" stroke="#555" stroke-width="0.6"/><text x="76.80" y="260.87" text-anchor="end" font-family='"Liberation Sans", sans-serif' font-weight="bold" font-size="5.90" fill="#222">0.6</text><line x1="77.60" y1="248.70" x2="78.8" y2="248.70" stroke="#555" stroke-width="0.6"/><text x="76.80" y="250.70" text-anchor="end" font-family='"Liberation Sans", sans-serif' font-weight="bold" font-size="5.90" fill="#222">0.9</text><line x1="77.60" y1="238.53" x2="78.8" y2="238.53" stroke="#555" stroke-width="0.6"/><text x="76.80" y="240.53" text-anchor="end" font-family='"Liberation Sans", sans-serif' font-weight="bold" font-size="5.90" fill="#222">1.2</text><line x1="77.60" y1="228.37" x2="78.8" y2="228.37" stroke="#555" stroke-width="0.6"/><text x="76.80" y="230.37" text-anchor="end" font-family='"Liberation Sans", sans-serif' font-weight="bold" font-size="5.90" fill="#222">1.5</text><line x1="77.60" y1="218.20" x2="78.8" y2="218.20" stroke="#555" stroke-width="0.6"/><text x="76.80" y="220.20" text-anchor="end" font-family='"Liberation Sans", sans-serif' font-weight="bold" font-size="5.90" fill="#222">1.8</text><polyline points="88.1,264.6 88.8,261.1 89.8,257.3 90.9,253.3 91.9,248.6 92.8,243.2 93.7,237.6 94.5,231.9 95.4,225.8 96.6,223.0 98.0,226.8 99.8,235.9 101.5,246.3 103.2,253.6 105.3,258.9 107.9,262.9 111.1,265.8 114.6,268.1 119.3,270.4 125.0,271.6 132.8,273.0 143.3,273.7 159.0,274.2" fill="none" stroke="#333" stroke-width="0.55"/><rect x="87.15" y="263.65" width="1.9" height="1.9" fill="#111"/><rect x="87.85" y="260.15" width="1.9" height="1.9" fill="#111"/><rect x="88.85" y="256.35" width="1.9" height="1.9" fill="#111"/><rect x="89.95" y="252.35" width="1.9" height="1.9" fill="#111"/><rect x="90.95" y="247.65" width="1.9" height="1.9" fill="#111"/><rect x="91.85" y="242.25" width="1.9" height="1.9" fill="#111"/><rect x="92.75" y="236.65" width="1.9" height="1.9" fill="#111"/><rect x="93.55" y="230.95" width="1.9" height="1.9" fill="#111"/><rect x="94.45" y="224.85" width="1.9" height="1.9" fill="#111"/><rect x="95.65" y="222.05" width="1.9" height="1.9" fill="#111"/><rect x="97.05" y="225.85" width="1.9" height="1.9" fill="#111"/><rect x="98.85" y="234.95" width="1.9" height="1.9" fill="#111"/><rect x="100.55" y="245.35" width="1.9" height="1.9" fill="#111"/><rect x="102.25" y="252.65" width="1.9" height="1.9" fill="#111"/><rect x="104.35" y="257.95" width="1.9" height="1.9" fill="#111"/><rect x="106.95" y="261.95" width="1.9" height="1.9" fill="#111"/><rect x="110.15" y="264.85" width="1.9" height="1.9" fill="#111"/><rect x="113.65" y="267.15" width="1.9" height="1.9" fill="#111"/><rect x="118.35" y="269.45" width="1.9" height="1.9" fill="#111"/><rect x="124.05" y="270.65" width="1.9" height="1.9" fill="#111"/><rect x="131.85" y="272.05" width="1.9" height="1.9" fill="#111"/><rect x="142.35" y="272.75" width="1.9" height="1.9" fill="#111"/><rect x="158.05" y="273.25" width="1.9" height="1.9" fill="#111"/><text x="121.90" y="294.0" text-anchor="middle" font-family='"Liberation Serif", serif' font-weight="bold" font-size="6.20" letter-spacing="0.20" fill="#222">Pore Diameter (nm)</text><text transform="translate(63.0,248.65) rotate(-90)" text-anchor="middle" font-family='"Liberation Serif", serif' font-weight="bold" font-size="6.20" fill="#222">Pore Volume(cm<tspan font-size="4" dy="-2.2">3</tspan><tspan dy="2.2"> nm</tspan><tspan font-size="4" dy="-2.2">-1</tspan><tspan dy="2.2"> g</tspan><tspan font-size="4" dy="-2.2">-1</tspan><tspan dy="2.2">)</tspan></text></g>
<g><rect x="330.50" y="212.00" width="210.10" height="157.00" fill="none" stroke="#111" stroke-width="1.45"/><line x1="330.50" y1="369.00" x2="330.50" y2="372.00" stroke="#1a1a1a" stroke-width="1"/><line x1="372.52" y1="369.00" x2="372.52" y2="372.00" stroke="#1a1a1a" stroke-width="1"/><line x1="414.54" y1="369.00" x2="414.54" y2="372.00" stroke="#1a1a1a" stroke-width="1"/><line x1="456.56" y1="369.00" x2="456.56" y2="372.00" stroke="#1a1a1a" stroke-width="1"/><line x1="498.58" y1="369.00" x2="498.58" y2="372.00" stroke="#1a1a1a" stroke-width="1"/><line x1="540.60" y1="369.00" x2="540.60" y2="372.00" stroke="#1a1a1a" stroke-width="1"/><line x1="351.51" y1="369.00" x2="351.51" y2="370.80" stroke="#1a1a1a" stroke-width="1"/><line x1="393.53" y1="369.00" x2="393.53" y2="370.80" stroke="#1a1a1a" stroke-width="1"/><line x1="435.55" y1="369.00" x2="435.55" y2="370.80" stroke="#1a1a1a" stroke-width="1"/><line x1="477.57" y1="369.00" x2="477.57" y2="370.80" stroke="#1a1a1a" stroke-width="1"/><line x1="519.59" y1="369.00" x2="519.59" y2="370.80" stroke="#1a1a1a" stroke-width="1"/><line x1="327.50" y1="369.00" x2="330.50" y2="369.00" stroke="#1a1a1a" stroke-width="1"/><line x1="327.50" y1="337.60" x2="330.50" y2="337.60" stroke="#1a1a1a" stroke-width="1"/><line x1="327.50" y1="306.20" x2="330.50" y2="306.20" stroke="#1a1a1a" stroke-width="1"/><line x1="327.50" y1="274.80" x2="330.50" y2="274.80" stroke="#1a1a1a" stroke-width="1"/><line x1="327.50" y1="243.40" x2="330.50" y2="243.40" stroke="#1a1a1a" stroke-width="1"/><line x1="327.50" y1="212.00" x2="330.50" y2="212.00" stroke="#1a1a1a" stroke-width="1"/><line x1="328.70" y1="353.30" x2="330.50" y2="353.30" stroke="#1a1a1a" stroke-width="1"/><line x1="328.70" y1="321.90" x2="330.50" y2="321.90" stroke="#1a1a1a" stroke-width="1"/><line x1="328.70" y1="290.50" x2="330.50" y2="290.50" stroke="#1a1a1a" stroke-width="1"/><line x1="328.70" y1="259.10" x2="330.50" y2="259.10" stroke="#1a1a1a" stroke-width="1"/><line x1="328.70" y1="227.70" x2="330.50" y2="227.70" stroke="#1a1a1a" stroke-width="1"/><text x="330.50" y="381.60" text-anchor="middle" font-family='"Liberation Sans", sans-serif' font-weight="bold" font-size="8.6">0.0</text><text x="372.52" y="381.60" text-anchor="middle" font-family='"Liberation Sans", sans-serif' font-weight="bold" font-size="8.6">0.2</text><text x="414.54" y="381.60" text-anchor="middle" font-family='"Liberation Sans", sans-serif' font-weight="bold" font-size="8.6">0.4</text><text x="456.56" y="381.60" text-anchor="middle" font-family='"Liberation Sans", sans-serif' font-weight="bold" font-size="8.6">0.6</text><text x="498.58" y="381.60" text-anchor="middle" font-family='"Liberation Sans", sans-serif' font-weight="bold" font-size="8.6">0.8</text><text x="540.60" y="381.60" text-anchor="middle" font-family='"Liberation Sans", sans-serif' font-weight="bold" font-size="8.6">1.0</text><text x="325.30" y="371.30" text-anchor="end" font-family='"Liberation Sans", sans-serif' font-weight="bold" font-size="8.6">100</text><text x="325.30" y="339.90" text-anchor="end" font-family='"Liberation Sans", sans-serif' font-weight="bold" font-size="8.6">200</text><text x="325.30" y="308.50" text-anchor="end" font-family='"Liberation Sans", sans-serif' font-weight="bold" font-size="8.6">300</text><text x="325.30" y="277.10" text-anchor="end" font-family='"Liberation Sans", sans-serif' font-weight="bold" font-size="8.6">400</text><text x="325.30" y="245.70" text-anchor="end" font-family='"Liberation Sans", sans-serif' font-weight="bold" font-size="8.6">500</text><text x="325.30" y="214.30" text-anchor="end" font-family='"Liberation Sans", sans-serif' font-weight="bold" font-size="8.6">600</text><text x="279.0" y="229.1" font-family='"Liberation Serif", serif' font-weight="bold" font-size="27">d</text><text x="524.6" y="231.4" text-anchor="end" font-family='"Liberation Serif", serif' font-weight="bold" font-size="12">C/DFNS-1</text><text transform="translate(304.6,363.0) rotate(-90)" font-family='"Liberation Serif", serif' font-weight="bold" font-size="12.3">Quantity Adsorbed<tspan font-size="7.5">(</tspan>cm<tspan font-size="8.8" dy="-4.4">3</tspan><tspan dy="4.4" dx="0.8"> g</tspan><tspan font-size="8.8" dy="-4.4">-1</tspan><tspan font-size="7.5" dy="4.4">)</tspan></text><text x="376.4" y="395.9" font-family='"Liberation Serif", serif' font-weight="bold" font-size="12">Relative Pressure <tspan font-size="8.5">(</tspan>P/P<tspan font-size="7.5" dy="-4.5">0</tspan><tspan font-size="8.5" dy="4.5">)</tspan></text><polyline points="341.4,355.9 348.3,352.8 355.4,349.5 357.2,349.9 363.2,346.8 370.8,343.7 378.1,341.0 385.2,338.0 392.6,334.7 400.0,331.1 406.8,327.4 413.8,322.8 421.5,317.5 429.0,313.3 436.3,309.3 443.6,306.1 450.5,303.5 458.1,300.8 465.5,298.5 473.1,296.2 480.6,294.4 487.3,292.3 494.8,290.6 502.1,288.5 509.3,286.3 516.6,283.0 524.9,276.7 532.3,264.3 538.4,241.7" fill="none" stroke="#e6867c" stroke-width="0.7"/><polyline points="538.4,241.7 531.9,257.0 524.4,272.3 518.3,277.4 510.0,281.0 501.3,283.7 496.5,284.5 488.7,286.2 481.2,287.6 473.8,288.9 466.5,290.4 459.3,291.8 452.0,293.3 444.7,295.5 437.5,299.4 430.2,305.2 422.1,313.0 415.5,318.6 407.6,325.1" fill="none" stroke="#e6867c" stroke-width="0.7"/><circle cx="341.4" cy="355.9" r="2.6" fill="url(#gred)"/><circle cx="348.3" cy="352.8" r="2.6" fill="url(#gred)"/><circle cx="355.4" cy="349.5" r="2.6" fill="url(#gred)"/><circle cx="357.2" cy="349.9" r="2.6" fill="url(#gred)"/><circle cx="363.2" cy="346.8" r="2.6" fill="url(#gred)"/><circle cx="370.8" cy="343.7" r="2.6" fill="url(#gred)"/><circle cx="378.1" cy="341.0" r="2.6" fill="url(#gred)"/><circle cx="385.2" cy="338.0" r="2.6" fill="url(#gred)"/><circle cx="392.6" cy="334.7" r="2.6" fill="url(#gred)"/><circle cx="400.0" cy="331.1" r="2.6" fill="url(#gred)"/><circle cx="406.8" cy="327.4" r="2.6" fill="url(#gred)"/><circle cx="413.8" cy="322.8" r="2.6" fill="url(#gred)"/><circle cx="421.5" cy="317.5" r="2.6" fill="url(#gred)"/><circle cx="429.0" cy="313.3" r="2.6" fill="url(#gred)"/><circle cx="436.3" cy="309.3" r="2.6" fill="url(#gred)"/><circle cx="443.6" cy="306.1" r="2.6" fill="url(#gred)"/><circle cx="450.5" cy="303.5" r="2.6" fill="url(#gred)"/><circle cx="458.1" cy="300.8" r="2.6" fill="url(#gred)"/><circle cx="465.5" cy="298.5" r="2.6" fill="url(#gred)"/><circle cx="473.1" cy="296.2" r="2.6" fill="url(#gred)"/><circle cx="480.6" cy="294.4" r="2.6" fill="url(#gred)"/><circle cx="487.3" cy="292.3" r="2.6" fill="url(#gred)"/><circle cx="494.8" cy="290.6" r="2.6" fill="url(#gred)"/><circle cx="502.1" cy="288.5" r="2.6" fill="url(#gred)"/><circle cx="509.3" cy="286.3" r="2.6" fill="url(#gred)"/><circle cx="516.6" cy="283.0" r="2.6" fill="url(#gred)"/><circle cx="524.9" cy="276.7" r="2.6" fill="url(#gred)"/><circle cx="532.3" cy="264.3" r="2.6" fill="url(#gred)"/><circle cx="538.4" cy="241.7" r="2.6" fill="url(#gred)"/><circle cx="538.4" cy="241.7" r="2.6" fill="url(#gred)"/><circle cx="531.9" cy="257.0" r="2.6" fill="url(#gred)"/><circle cx="524.4" cy="272.3" r="2.6" fill="url(#gred)"/><circle cx="518.3" cy="277.4" r="2.6" fill="url(#gred)"/><circle cx="510.0" cy="281.0" r="2.6" fill="url(#gred)"/><circle cx="501.3" cy="283.7" r="2.6" fill="url(#gred)"/><circle cx="496.5" cy="284.5" r="2.6" fill="url(#gred)"/><circle cx="488.7" cy="286.2" r="2.6" fill="url(#gred)"/><circle cx="481.2" cy="287.6" r="2.6" fill="url(#gred)"/><circle cx="473.8" cy="288.9" r="2.6" fill="url(#gred)"/><circle cx="466.5" cy="290.4" r="2.6" fill="url(#gred)"/><circle cx="459.3" cy="291.8" r="2.6" fill="url(#gred)"/><circle cx="452.0" cy="293.3" r="2.6" fill="url(#gred)"/><circle cx="444.7" cy="295.5" r="2.6" fill="url(#gred)"/><circle cx="437.5" cy="299.4" r="2.6" fill="url(#gred)"/><circle cx="430.2" cy="305.2" r="2.6" fill="url(#gred)"/><circle cx="422.1" cy="313.0" r="2.6" fill="url(#gred)"/><circle cx="415.5" cy="318.6" r="2.6" fill="url(#gred)"/><circle cx="407.6" cy="325.1" r="2.6" fill="url(#gred)"/><rect x="355.4" y="218.3" width="82.70" height="62.00" fill="#fff" stroke="#6a6a6a" stroke-width="1"/><line x1="355.70" y1="280.3" x2="355.70" y2="281.50" stroke="#555" stroke-width="0.6"/><text x="355.70" y="286.70" text-anchor="middle" font-family='"Liberation Sans", sans-serif' font-weight="bold" font-size="5.90" fill="#222">0</text><line x1="365.98" y1="280.3" x2="365.98" y2="281.50" stroke="#555" stroke-width="0.6"/><text x="365.98" y="286.70" text-anchor="middle" font-family='"Liberation Sans", sans-serif' font-weight="bold" font-size="5.90" fill="#222">2</text><line x1="376.26" y1="280.3" x2="376.26" y2="281.50" stroke="#555" stroke-width="0.6"/><text x="376.26" y="286.70" text-anchor="middle" font-family='"Liberation Sans", sans-serif' font-weight="bold" font-size="5.90" fill="#222">4</text><line x1="386.54" y1="280.3" x2="386.54" y2="281.50" stroke="#555" stroke-width="0.6"/><text x="386.54" y="286.70" text-anchor="middle" font-family='"Liberation Sans", sans-serif' font-weight="bold" font-size="5.90" fill="#222">6</text><line x1="396.82" y1="280.3" x2="396.82" y2="281.50" stroke="#555" stroke-width="0.6"/><text x="396.82" y="286.70" text-anchor="middle" font-family='"Liberation Sans", sans-serif' font-weight="bold" font-size="5.90" fill="#222">8</text><line x1="407.10" y1="280.3" x2="407.10" y2="281.50" stroke="#555" stroke-width="0.6"/><text x="407.10" y="286.70" text-anchor="middle" font-family='"Liberation Sans", sans-serif' font-weight="bold" font-size="5.90" fill="#222">10</text><line x1="417.38" y1="280.3" x2="417.38" y2="281.50" stroke="#555" stroke-width="0.6"/><text x="417.38" y="286.70" text-anchor="middle" font-family='"Liberation Sans", sans-serif' font-weight="bold" font-size="5.90" fill="#222">12</text><line x1="427.66" y1="280.3" x2="427.66" y2="281.50" stroke="#555" stroke-width="0.6"/><text x="427.66" y="286.70" text-anchor="middle" font-family='"Liberation Sans", sans-serif' font-weight="bold" font-size="5.90" fill="#222">14</text><line x1="437.94" y1="280.3" x2="437.94" y2="281.50" stroke="#555" stroke-width="0.6"/><text x="437.94" y="286.70" text-anchor="middle" font-family='"Liberation Sans", sans-serif' font-weight="bold" font-size="5.90" fill="#222">16</text><line x1="354.20" y1="280.10" x2="355.4" y2="280.10" stroke="#555" stroke-width="0.6"/><text x="353.40" y="282.10" text-anchor="end" font-family='"Liberation Sans", sans-serif' font-weight="bold" font-size="5.90" fill="#222">0.0</text><line x1="354.20" y1="269.80" x2="355.4" y2="269.80" stroke="#555" stroke-width="0.6"/><text x="353.40" y="271.80" text-anchor="end" font-family='"Liberation Sans", sans-serif' font-weight="bold" font-size="5.90" fill="#222">0.3</text><line x1="354.20" y1="259.50" x2="355.4" y2="259.50" stroke="#555" stroke-width="0.6"/><text x="353.40" y="261.50" text-anchor="end" font-family='"Liberation Sans", sans-serif' font-weight="bold" font-size="5.90" fill="#222">0.6</text><line x1="354.20" y1="249.20" x2="355.4" y2="249.20" stroke="#555" stroke-width="0.6"/><text x="353.40" y="251.20" text-anchor="end" font-family='"Liberation Sans", sans-serif' font-weight="bold" font-size="5.90" fill="#222">0.9</text><line x1="354.20" y1="238.90" x2="355.4" y2="238.90" stroke="#555" stroke-width="0.6"/><text x="353.40" y="240.90" text-anchor="end" font-family='"Liberation Sans", sans-serif' font-weight="bold" font-size="5.90" fill="#222">1.2</text><line x1="354.20" y1="228.60" x2="355.4" y2="228.60" stroke="#555" stroke-width="0.6"/><text x="353.40" y="230.60" text-anchor="end" font-family='"Liberation Sans", sans-serif' font-weight="bold" font-size="5.90" fill="#222">1.5</text><line x1="354.20" y1="218.30" x2="355.4" y2="218.30" stroke="#555" stroke-width="0.6"/><text x="353.40" y="220.30" text-anchor="end" font-family='"Liberation Sans", sans-serif' font-weight="bold" font-size="5.90" fill="#222">1.8</text><polyline points="364.1,266.9 365.8,259.0 366.8,255.0 367.7,249.8 368.9,244.6 369.8,238.5 371.0,232.4 371.7,225.8 373.3,225.8 374.5,231.9 375.9,240.8 377.6,250.3 379.4,256.8 381.5,261.1 384.2,264.6 387.2,267.2 390.7,269.8 395.6,271.6 401.7,272.8 409.3,273.5 419.8,273.8 435.4,273.7" fill="none" stroke="#333" stroke-width="0.55"/><rect x="363.15" y="265.95" width="1.9" height="1.9" fill="#111"/><rect x="364.85" y="258.05" width="1.9" height="1.9" fill="#111"/><rect x="365.85" y="254.05" width="1.9" height="1.9" fill="#111"/><rect x="366.75" y="248.85" width="1.9" height="1.9" fill="#111"/><rect x="367.95" y="243.65" width="1.9" height="1.9" fill="#111"/><rect x="368.85" y="237.55" width="1.9" height="1.9" fill="#111"/><rect x="370.05" y="231.45" width="1.9" height="1.9" fill="#111"/><rect x="370.75" y="224.85" width="1.9" height="1.9" fill="#111"/><rect x="372.35" y="224.85" width="1.9" height="1.9" fill="#111"/><rect x="373.55" y="230.95" width="1.9" height="1.9" fill="#111"/><rect x="374.95" y="239.85" width="1.9" height="1.9" fill="#111"/><rect x="376.65" y="249.35" width="1.9" height="1.9" fill="#111"/><rect x="378.45" y="255.85" width="1.9" height="1.9" fill="#111"/><rect x="380.55" y="260.15" width="1.9" height="1.9" fill="#111"/><rect x="383.25" y="263.65" width="1.9" height="1.9" fill="#111"/><rect x="386.25" y="266.25" width="1.9" height="1.9" fill="#111"/><rect x="389.75" y="268.85" width="1.9" height="1.9" fill="#111"/><rect x="394.65" y="270.65" width="1.9" height="1.9" fill="#111"/><rect x="400.75" y="271.85" width="1.9" height="1.9" fill="#111"/><rect x="408.35" y="272.55" width="1.9" height="1.9" fill="#111"/><rect x="418.85" y="272.85" width="1.9" height="1.9" fill="#111"/><rect x="434.45" y="272.75" width="1.9" height="1.9" fill="#111"/><text x="398.50" y="294.0" text-anchor="middle" font-family='"Liberation Serif", serif' font-weight="bold" font-size="6.20" letter-spacing="0.20" fill="#222">Pore Diameter (nm)</text><text transform="translate(342.0,249.30) rotate(-90)" text-anchor="middle" font-family='"Liberation Serif", serif' font-weight="bold" font-size="6.20" fill="#222">Pore Volume(cm<tspan font-size="4" dy="-2.2">3</tspan><tspan dy="2.2"> nm</tspan><tspan font-size="4" dy="-2.2">-1</tspan><tspan dy="2.2"> g</tspan><tspan font-size="4" dy="-2.2">-1</tspan><tspan dy="2.2">)</tspan></text></g>
</svg></body></html>
